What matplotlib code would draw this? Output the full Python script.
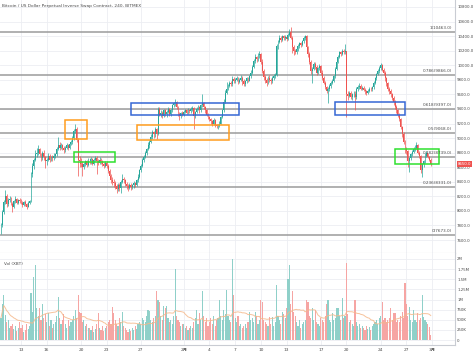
#!/usr/bin/env python3
"""BitMEX XBTUSD 4h candles with fib levels and volume, TradingView style."""

import matplotlib
matplotlib.use("Agg")
import matplotlib.pyplot as plt
import numpy as np
import pandas as pd
from matplotlib.patches import Rectangle

PALETTE = {
    "up": "#26a69a",
    "down": "#ef5350",
    "grid": "#eceef2",
    "fib": "#9b9b9b",
    "text": "#4a4a4a",
    "border": "#c9ccd3",
    "orange": "#ff9d1e",
    "blue": "#3567d4",
    "green": "#2fe02f",
}

TITLE = "Bitcoin / US Dollar Perpetual Inverse Swap Contract, 240, BITMEX"

# 4h candles, Jan 10 16:00 .. Feb 29 20:00 (one row per day)
first_open = 7720
closes = [
    7800, 7980,
    8120, 8200, 8090, 8150, 8170, 8100,
    8060, 8130, 8170, 8110, 8150, 8130,
    8110, 8080, 8120, 8090, 8060, 8110,
    8130, 8500, 8620, 8700, 8780, 8800,
    8850, 8780, 8720, 8800, 8740, 8680,
    8700, 8760, 8700, 8740, 8720, 8760,
    8780, 8850, 8910, 8870, 8900, 8860,
    8830, 8870, 8900, 8860, 8920, 8940,
    9000, 9100, 9130, 8980, 8700, 8680,
    8640, 8600, 8650, 8680, 8630, 8690,
    8680, 8710, 8650, 8700, 8720, 8690,
    8660, 8700, 8680, 8650, 8620, 8660,
    8610, 8550, 8480, 8430, 8400, 8380,
    8340, 8300, 8360, 8310, 8400, 8440,
    8420, 8370, 8340, 8320, 8360, 8330,
    8350, 8380, 8360, 8420, 8470, 8560,
    8620, 8700, 8740, 8790, 8850, 8900,
    8950, 9020, 9080, 9050, 9120, 9060,
    9400, 9320, 9350, 9300, 9380, 9330,
    9360, 9400, 9330, 9380, 9450, 9480,
    9500, 9420, 9330, 9300, 9340, 9320,
    9360, 9380, 9350, 9390, 9370, 9400,
    9410, 9300, 9360, 9400, 9420, 9380,
    9450, 9480, 9420, 9380, 9320, 9290,
    9260, 9230, 9200, 9250, 9180, 9160,
    9170, 9200, 9290, 9380, 9500, 9620,
    9680, 9720, 9760, 9740, 9810, 9790,
    9800, 9820, 9770, 9800, 9830, 9790,
    9740, 9780, 9820, 9790, 9850, 9900,
    9980, 10060, 10120, 10080, 10140, 10150,
    10050, 9920, 9840, 9800, 9760, 9830,
    9800, 9780, 9830, 9850, 9870, 10270,
    10320, 10380, 10350, 10400, 10370, 10390,
    10360, 10420, 10450, 10380, 10250, 10200,
    10180, 10220, 10260, 10300, 10280, 10330,
    10380, 10400, 10250, 10150, 10050, 9920,
    9950, 10020, 9980, 9900, 9960, 9990,
    9900, 9830, 9760, 9700, 9650, 9680,
    9720, 9760, 9790, 9850, 9950, 10050,
    10120, 10180, 10150, 10200, 10180, 10190,
    9600, 9580, 9620, 9560, 9600, 9610,
    9560, 9680, 9700, 9720, 9680, 9690,
    9660, 9640, 9620, 9650, 9680, 9670,
    9700, 9760, 9820, 9880, 9920, 9960,
    10000, 9940, 9900, 9820, 9750, 9680,
    9640, 9600, 9550, 9500, 9430, 9380,
    9320, 9260, 9150, 9060, 8950, 8850,
    8820, 8680, 8720, 8780, 8810, 8850,
    8870, 8910, 8800, 8750, 8560, 8640,
    8680, 8760, 8790, 8740, 8700, 8650,
]
highs = [
    7830, 8010,
    8150, 8290, 8230, 8180, 8210, 8190,
    8120, 8150, 8200, 8180, 8170, 8180,
    8160, 8130, 8140, 8150, 8110, 8130,
    8150, 8530, 8660, 8730, 8830, 8860,
    8900, 8870, 8800, 8820, 8830, 8760,
    8730, 8790, 8780, 8760, 8770, 8790,
    8800, 8880, 9010, 8940, 8930, 8920,
    8890, 8890, 8930, 8920, 8950, 8970,
    9030, 9130, 9190, 9150, 9000, 8760,
    8720, 8680, 8670, 8700, 8700, 8720,
    8720, 8740, 8730, 8720, 8760, 8750,
    8710, 8740, 8730, 8700, 8670, 8690,
    8680, 8640, 8580, 8510, 8460, 8440,
    8410, 8370, 8390, 8380, 8420, 8500,
    8470, 8440, 8400, 8370, 8390, 8380,
    8370, 8410, 8400, 8440, 8500, 8580,
    8640, 8730, 8770, 8820, 8870, 8940,
    8980, 9050, 9110, 9100, 9150, 9140,
    9420, 9430, 9390, 9370, 9400, 9400,
    9390, 9420, 9410, 9400, 9470, 9500,
    9530, 9510, 9440, 9360, 9360, 9370,
    9380, 9400, 9400, 9410, 9400, 9420,
    9440, 9430, 9370, 9420, 9460, 9440,
    9470, 9600, 9500, 9440, 9400, 9340,
    9310, 9280, 9250, 9270, 9260, 9200,
    9190, 9230, 9310, 9400, 9530, 9660,
    9770, 9740, 9790, 9780, 9850, 9840,
    9830, 9850, 9840, 9820, 9860, 9850,
    9810, 9800, 9840, 9840, 9870, 9930,
    10000, 10090, 10150, 10130, 10170, 10190,
    10170, 10080, 9950, 9870, 9830, 9850,
    9860, 9820, 9850, 9880, 9900, 10290,
    10350, 10410, 10400, 10420, 10420, 10410,
    10410, 10440, 10500, 10520, 10400, 10280,
    10230, 10250, 10290, 10320, 10320, 10350,
    10400, 10420, 10410, 10270, 10180, 10070,
    9970, 10050, 10040, 10000, 9980, 10020,
    10000, 9930, 9850, 9790, 9720, 9700,
    9740, 9790, 9810, 9870, 9980, 10080,
    10140, 10200, 10200, 10230, 10230, 10290,
    10200, 9640, 9650, 9640, 9620, 9640,
    9640, 9700, 9730, 9750, 9740, 9710,
    9710, 9690, 9660, 9670, 9700, 9700,
    9720, 9780, 9840, 9900, 9950, 9990,
    10030, 10020, 9960, 9920, 9840, 9770,
    9700, 9670, 9620, 9580, 9520, 9450,
    9400, 9340, 9280, 9170, 9080, 8970,
    8880, 8840, 8740, 8800, 8840, 8880,
    8900, 8940, 8920, 8820, 8770, 8660,
    8700, 8790, 8820, 8800, 8760, 8720,
]
lows = [
    7680, 7780,
    7960, 8100, 8060, 8070, 8120, 8080,
    7990, 8040, 8110, 8090, 8100, 8110,
    8090, 8050, 8070, 8070, 8030, 8050,
    8090, 8120, 8460, 8580, 8680, 8740,
    8770, 8750, 8680, 8700, 8700, 8590,
    8630, 8680, 8670, 8680, 8690, 8700,
    8730, 8760, 8830, 8840, 8850, 8830,
    8800, 8810, 8850, 8830, 8850, 8900,
    8920, 8980, 9070, 8950, 8480, 8600,
    8600, 8480, 8580, 8620, 8600, 8610,
    8640, 8650, 8630, 8630, 8680, 8500,
    8630, 8640, 8650, 8620, 8590, 8600,
    8590, 8520, 8450, 8390, 8360, 8330,
    8300, 8240, 8280, 8280, 8250, 8380,
    8390, 8340, 8300, 8280, 8300, 8290,
    8300, 8320, 8330, 8340, 8400, 8450,
    8540, 8600, 8670, 8720, 8770, 8830,
    8860, 8930, 8990, 9000, 9020, 8990,
    9040, 9300, 9290, 9280, 9290, 9300,
    9290, 9340, 9310, 9310, 9360, 9420,
    9440, 9400, 9310, 9250, 9280, 9300,
    9300, 9340, 9330, 9330, 9350, 9350,
    9370, 9120, 9280, 9340, 9380, 9350,
    9360, 9420, 9400, 9350, 9300, 9260,
    9240, 9200, 9170, 9180, 9150, 9140,
    9130, 9150, 9190, 9270, 9360, 9480,
    9600, 9660, 9700, 9710, 9720, 9760,
    9760, 9780, 9740, 9750, 9780, 9730,
    9720, 9720, 9760, 9770, 9780, 9830,
    9880, 9960, 10030, 10050, 10060, 10100,
    10020, 9890, 9800, 9760, 9720, 9740,
    9770, 9740, 9760, 9800, 9820, 9850,
    10230, 10300, 10320, 10330, 10350, 10350,
    10330, 10340, 10400, 10360, 10170, 10140,
    10150, 10160, 10200, 10240, 10250, 10260,
    10300, 10350, 10230, 10120, 10020, 9880,
    9760, 9930, 9950, 9870, 9880, 9940,
    9870, 9800, 9740, 9670, 9620, 9480,
    9640, 9690, 9740, 9770, 9830, 9930,
    10030, 10100, 10130, 10140, 10160, 10160,
    9290, 9520, 9560, 9530, 9520, 9570,
    9390, 9540, 9650, 9680, 9660, 9660,
    9640, 9610, 9590, 9600, 9630, 9640,
    9650, 9680, 9740, 9800, 9860, 9900,
    9940, 9920, 9870, 9790, 9720, 9650,
    9610, 9570, 9520, 9460, 9400, 9350,
    9290, 9230, 9120, 9020, 8920, 8800,
    8780, 8600, 8530, 8700, 8760, 8790,
    8820, 8850, 8780, 8720, 8520, 8460,
    8600, 8660, 8740, 8720, 8680, 8620,
]
# volume per candle, millions of contracts
volumes_m = [
    0.55, 0.9,
    1.1, 0.62, 0.45, 0.5, 0.3, 0.35,
    0.4, 0.28, 0.35, 0.22, 0.3, 0.45,
    0.3, 0.38, 0.2, 0.25, 0.4, 0.28,
    0.35, 1.15, 0.7, 1.55, 1.85, 0.8,
    0.6, 0.78, 0.5, 0.9, 0.55, 0.65,
    0.45, 0.66, 0.35, 0.5, 0.3, 0.4,
    0.45, 0.6, 1.07, 0.55, 0.4, 0.5,
    0.65, 0.4, 0.3, 0.5, 0.35, 0.45,
    0.5, 0.6, 0.74, 0.55, 1.1, 0.7,
    0.66, 0.45, 0.5, 0.35, 0.4, 0.3,
    0.3, 0.25, 0.35, 0.2, 0.28, 0.4,
    0.66, 0.3, 0.25, 0.35, 0.22, 0.3,
    0.35, 0.45, 0.5, 0.4, 0.82, 0.66,
    0.5, 0.4, 0.35, 0.55, 0.45, 0.7,
    0.35, 0.3, 0.25, 0.2, 0.28, 0.22,
    0.3, 0.25, 0.35, 0.28, 0.4, 0.45,
    0.4, 0.55, 0.5, 0.45, 0.6, 0.75,
    0.72, 0.5, 0.45, 0.55, 0.6, 1.2,
    1.0, 0.95, 0.6, 0.5, 0.85, 0.8,
    0.85, 0.55, 0.45, 0.5, 0.4, 0.6,
    1.75, 0.6, 0.5, 0.45, 0.35, 0.4,
    0.4, 0.3, 0.35, 0.25, 0.3, 0.35,
    0.3, 0.45, 0.55, 0.75, 0.4, 0.66,
    0.5, 1.2, 0.6, 0.45, 0.55, 0.35,
    0.45, 0.55, 0.4, 0.6, 0.35, 0.5,
    0.55, 1.0, 0.6, 0.5, 0.74, 0.65,
    1.23, 0.6, 0.5, 0.45, 2.0, 1.1,
    0.55, 0.45, 0.6, 0.35, 0.4, 0.3,
    0.35, 0.4, 0.3, 0.45, 0.7, 0.5,
    0.55, 0.45, 0.7, 0.6, 0.4, 0.5,
    1.0, 0.95, 0.5, 0.45, 0.4, 0.35,
    0.58, 0.4, 0.58, 0.35, 0.45, 1.36,
    0.6, 0.5, 0.4, 0.7, 0.65, 0.55,
    0.8, 1.5, 1.85, 0.9, 1.2, 0.7,
    0.6, 0.45, 0.35, 0.5, 0.3, 0.4,
    0.45, 0.5, 1.0, 0.95, 0.6, 0.55,
    0.8, 0.5, 0.74, 0.45, 0.4, 0.35,
    0.55, 0.5, 0.45, 0.6, 0.9, 1.0,
    0.5, 0.45, 0.66, 0.5, 0.55, 0.8,
    0.8, 0.6, 0.5, 1.03, 0.55, 0.6,
    1.9, 0.65, 0.45, 0.5, 0.4, 0.35,
    1.0, 0.45, 0.35, 0.4, 0.3, 0.35,
    0.3, 0.25, 0.35, 0.28, 0.32, 0.25,
    0.35, 0.4, 0.45, 0.5, 0.4, 0.55,
    0.6, 0.95, 0.5, 0.55, 0.45, 0.5,
    0.55, 0.78, 0.5, 0.66, 0.66, 0.45,
    0.5, 0.45, 0.6, 0.7, 0.55, 1.4,
    0.9, 0.6, 0.82, 0.5, 0.45, 0.74,
    0.5, 0.45, 0.66, 0.5, 0.55, 1.1,
    0.58, 0.5, 0.45, 0.4, 0.33, 0.12,
]

# date ticks: candle index of each midnight label
date_tick_idx = [14, 32, 56, 74, 98, 128, 146, 164, 182, 200, 224, 242, 266, 284, 302]
date_tick_labels = ["13", "16", "20", "23", "27", "2月", "4", "7", "10", "13", "17", "20", "24", "27", "3月"]

fib_ratios = ["1", "0.786", "0.618", "0.5", "0.382", "0.236", "0"]
fib_prices = [10463.0, 9866.0, 9397.0, 9068.0, 8739.0, 8331.0, 7673.0]

price_ticks = list(range(7600, 10801, 200))
vol_ticks_m = [0, 0.25, 0.5, 0.75, 1.0, 1.25, 1.5, 1.75, 2.0]
vol_tick_labels = ["0", "250K", "500K", "750K", "1M", "1.25M", "1.5M", "1.75M", "2M"]

# zones drawn on the chart: (first candle, last candle, low, high, colour key)
zone_start = [45, 51, 91, 95, 234, 276]
zone_end = [60, 80, 167, 160, 283, 307]
zone_low = [8990, 8670, 9320, 8975, 9320, 8645]
zone_high = [9250, 8810, 9480, 9180, 9495, 8850]
zone_color = ["orange", "green", "blue", "orange", "blue", "green"]


def main() -> None:
    plt.rcParams["font.family"] = ["DejaVu Sans", "Noto Sans CJK SC"]

    n = len(closes)
    assert len(highs) == n and len(lows) == n and len(volumes_m) == n
    idx = np.arange(n)
    c = np.array(closes, dtype=float)
    o = np.concatenate([[first_open], c[:-1]])
    h = np.array(highs, dtype=float)
    lo = np.array(lows, dtype=float)
    v = np.array(volumes_m, dtype=float)
    up = c >= o
    colors = np.where(up, PALETTE["up"], PALETTE["down"])

    W, H = 474, 356
    fig = plt.figure(figsize=(W / 100, H / 100), dpi=100)
    fig.patch.set_facecolor("white")
    ax = fig.add_axes([0, 1 - 253 / H, 455 / W, 253 / H])
    axv = fig.add_axes([0, 1 - 345 / H, 455 / W, 92 / H], sharex=ax)

    xlim = (-0.7, 318.0)

    # price pane
    ax.set_xlim(*xlim)
    ax.set_ylim(7422, 10896)
    for x in date_tick_idx:
        ax.axvline(x, color=PALETTE["grid"], lw=0.6, zorder=0)
        axv.axvline(x, color=PALETTE["grid"], lw=0.6, zorder=0)
    for y in price_ticks:
        ax.axhline(y, color=PALETTE["grid"], lw=0.6, zorder=0)

    for ratio, level in zip(fib_ratios, fib_prices):
        ax.axhline(level, color=PALETTE["fib"], lw=1.1, zorder=1)
        ax.text(0.993, level + 25, f"{ratio}({level:.1f})", transform=ax.get_yaxis_transform(),
                ha="right", va="bottom", fontsize=3.0, color=PALETTE["text"], zorder=5)

    ax.vlines(idx, lo, h, colors=colors, lw=0.5, zorder=2)
    body = np.where(np.abs(c - o) < 8, 8, c - o)
    ax.bar(idx, body, bottom=o, width=0.65, color=colors, linewidth=0, zorder=3)

    for s, e, zl, zh, key in zip(zone_start, zone_end, zone_low, zone_high, zone_color):
        ax.add_patch(Rectangle((s, zl), e - s, zh - zl, fill=False,
                               edgecolor=PALETTE[key], lw=1.1, zorder=4))

    ax.yaxis.tick_right()
    ax.set_yticks(price_ticks)
    ax.set_yticklabels([f"{p:.1f}" for p in price_ticks])
    ax.tick_params(axis="y", length=0, pad=1.5, labelsize=2.8, labelcolor=PALETTE["text"])
    ax.tick_params(axis="x", length=0, labelbottom=False)
    for side in ("top", "left"):
        ax.spines[side].set_visible(False)
    ax.spines["right"].set_color(PALETTE["border"])
    ax.spines["bottom"].set_color(PALETTE["border"])
    ax.spines["right"].set_linewidth(0.8)
    ax.spines["bottom"].set_linewidth(0.8)

    last = c[-1]
    ax.annotate(f"{last:.1f}", xy=(1.0, last), xycoords=ax.get_yaxis_transform(),
                xytext=(1.8, 0), textcoords="offset points", ha="left", va="center",
                fontsize=2.8, color="white", annotation_clip=False,
                bbox=dict(boxstyle="square,pad=0.25", fc=PALETTE["down"], ec="none"))

    # volume pane
    axv.set_ylim(-0.123, 2.148)
    for y in vol_ticks_m:
        axv.axhline(y, color=PALETTE["grid"], lw=0.6, zorder=0)
    vol_colors = np.where(up, "#8fd0c9", "#f6a5a3")
    axv.bar(idx, v, width=0.8, color=vol_colors, linewidth=0, zorder=2)
    vol_ma = pd.Series(v).rolling(20, min_periods=1).mean()
    axv.plot(idx, vol_ma, color="#f5b88a", lw=0.7, alpha=0.85, zorder=3)

    axv.yaxis.tick_right()
    axv.set_yticks(vol_ticks_m)
    axv.set_yticklabels(vol_tick_labels)
    axv.tick_params(axis="y", length=0, pad=1.5, labelsize=2.8, labelcolor=PALETTE["text"])
    axv.set_xticks(date_tick_idx)
    axv.set_xticklabels(date_tick_labels)
    axv.tick_params(axis="x", length=0, pad=2.0, labelsize=3.1, labelcolor=PALETTE["text"])
    axv.set_xlim(*xlim)
    for side in ("top", "left"):
        axv.spines[side].set_visible(False)
    axv.spines["right"].set_color(PALETTE["border"])
    axv.spines["bottom"].set_color(PALETTE["border"])
    axv.spines["right"].set_linewidth(0.8)
    axv.spines["bottom"].set_linewidth(0.8)
    axv.text(0.008, 0.88, "Vol (XBT)", transform=axv.transAxes, fontsize=3.0,
             color=PALETTE["text"], ha="left", va="center")

    fig.text(2 / W, 1 - 6 / H, TITLE, fontsize=3.1, color=PALETTE["text"], ha="left", va="center")

    fig.savefig("out.png", dpi=100)
    plt.close(fig)


if __name__ == "__main__":
    main()
